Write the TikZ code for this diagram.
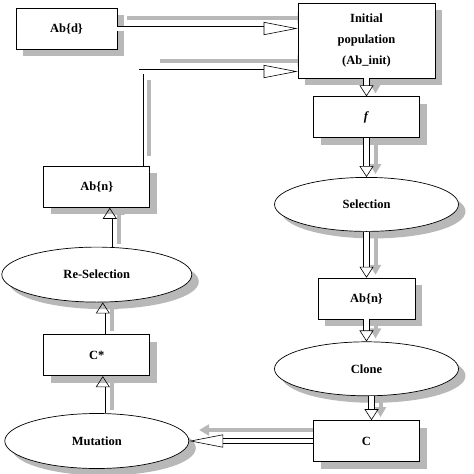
\documentclass[tikz,border=0pt]{standalone}
\usepackage{fontspec}
\setmainfont{Liberation Serif}
\usetikzlibrary{positioning, shapes.geometric, arrows.meta, shadows, backgrounds}

\begin{document}
\begin{tikzpicture}[
  block/.style={rectangle, draw=black, fill=white, line width=0.7pt,
                minimum width=106pt, minimum height=41pt, align=center,
                font=\fontsize{12.5}{21}\selectfont\bfseries,
                drop shadow={shadow xshift=7pt, shadow yshift=-7pt,
                             fill=black!28, opacity=1}},
  oval/.style={ellipse, draw=black, fill=white, line width=0.7pt,
               minimum width=184pt, minimum height=54pt, inner sep=0pt,
               font=\fontsize{12.5}{21}\selectfont\bfseries,
               drop shadow={shadow xshift=7pt, shadow yshift=-7pt,
                            fill=black!28, opacity=1}},
  flow/.style={double, double distance=5pt, line width=0.6pt,
               -{Triangle[open, length=11pt, width=14pt]}},
  flowlong/.style={flow, double distance=4pt,
                   -{Triangle[open, length=34pt, width=13pt]}},
  ghost/.style={draw=black!28, line width=4pt,
                -{Triangle[length=10pt, width=11pt]}},
  ghosth/.style={ghost, transform canvas={shift={(10pt,11pt)}}},
  ghostv/.style={ghost, transform canvas={shift={(9pt,3pt)}}}
]
\useasboundingbox (0,0) rectangle (474pt,-474pt);

% right column
\node[block, minimum width=101pt] (abd) at (66.5pt,-28.5pt) {Ab\{d\}};
\node[block, minimum width=137pt, minimum height=75pt] (init) at (366.5pt,-40.5pt)
     {Initial\\population\\(Ab\_init)};
\node[block, below=18pt of init] (f) {\textit{f}};
\node[oval, below=39pt of f] (sel) {Selection};
\node[block, minimum width=97pt, below=46pt of sel] (abn2) {Ab\{n\}};
\node[oval, below=22pt of abn2] (clone) {Clone};
\node[block, below=24pt of clone] (c) {C};

% left column
\node[oval, minimum height=55pt, left=124pt of c] (mut) {Mutation};
\node[block, above=37pt of mut] (cstar) {C*};
\node[oval, minimum width=190pt, minimum height=55pt, above=32pt of cstar] (resel) {Re-Selection};
\node[block, above=39pt of resel] (abn1) {Ab\{n\}};

% grey shadows of the arrows
\begin{scope}[on background layer]
  \draw[ghosth] (abd.east) -- (abd.east -| init.west);
  \draw[ghosth] ([yshift=-31pt]init.west -| abn1.north east) -- ([yshift=-31pt]init.west);
  \draw[ghost, -] ([xshift=-1pt,yshift=10pt]abn1.north east) -- ([xshift=-1pt,yshift=86pt]abn1.north east);
  \draw[ghostv] (init) -- (f);
  \draw[ghostv] (f) -- (sel);
  \draw[ghostv] (sel) -- (abn2);
  \draw[ghostv] (abn2) -- (clone);
  \draw[ghostv] ([xshift=5pt]clone.south) -- ([xshift=5pt]c.north);
  \draw[ghosth] (c.west) -- (c.west -| mut.east);
  \draw[ghostv] ([xshift=6pt]mut.north) -- ([xshift=6pt]cstar.south);
  \draw[ghostv] ([xshift=6pt]cstar.north) -- ([xshift=6pt]resel.south);
  \draw[ghostv] ([xshift=13pt]resel.north) -- ([xshift=13pt]abn1.south);
\end{scope}

% arrows
\draw[flowlong] (abd.east) -- (abd.east -| init.west);
\draw[flowlong] ([xshift=-9pt]abn1.north east) |- ([yshift=-31pt]init.west);
\draw[flow] (init) -- (f);
\draw[flow] (f) -- (sel);
\draw[flow] (sel) -- (abn2);
\draw[flow] (abn2) -- (clone);
\draw[flow] ([xshift=5pt]clone.south) -- ([xshift=5pt]c.north);
\draw[flowlong] (c.west) -- (c.west -| mut.east);
\draw[flow] ([xshift=6pt]mut.north) -- ([xshift=6pt]cstar.south);
\draw[flow] ([xshift=6pt]cstar.north) -- ([xshift=6pt]resel.south);
\draw[flow] ([xshift=13pt]resel.north) -- ([xshift=13pt]abn1.south);

\end{tikzpicture}
\end{document}
